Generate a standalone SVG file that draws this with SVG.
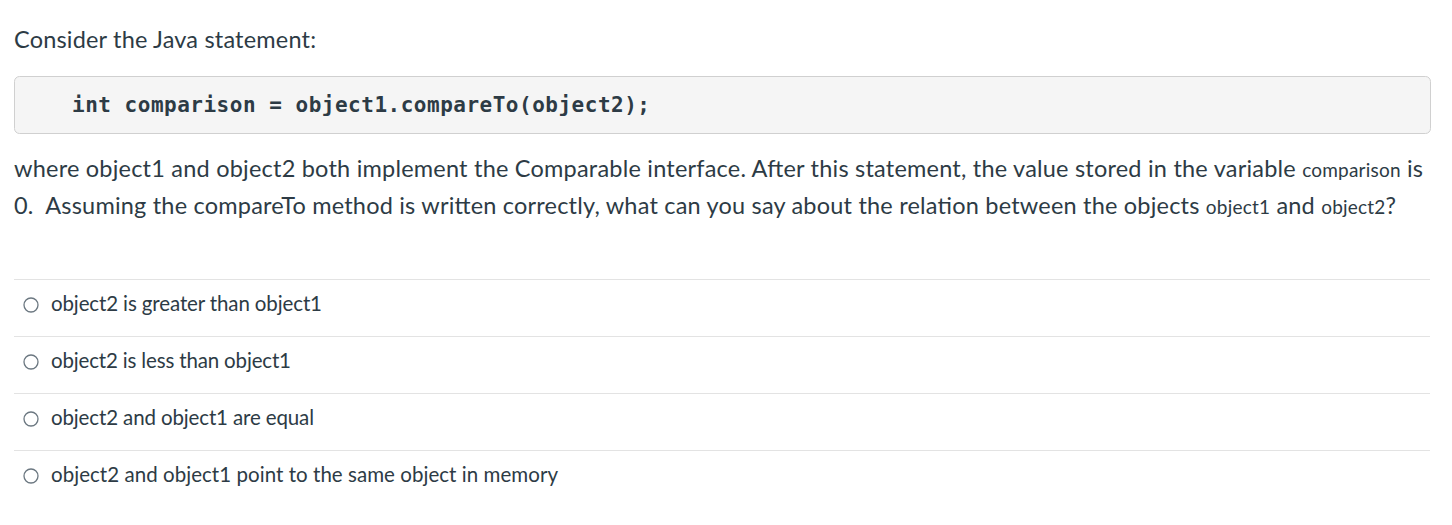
<svg xmlns="http://www.w3.org/2000/svg" width="1452" height="525" viewBox="0 0 1452 525">
<style>
.t{font-family:Lato,"Noto Sans",sans-serif;fill:#2d3b45;font-size:23.5px}
.s{font-size:19px}
.o{font-family:Lato,"Noto Sans",sans-serif;fill:#2d3b45;font-size:20.5px}
.c{font-family:"DejaVu Sans Mono",monospace;font-weight:bold;font-size:21px;fill:#2d3b45}
.sep{stroke:#e3e3e3;stroke-width:1}
.r{fill:#fff;stroke:#6b7780;stroke-width:1.3}
</style>
<rect width="1452" height="525" fill="#fff"/>
<text class="t" x="14" y="48" textLength="302" lengthAdjust="spacing">Consider the Java statement:</text>
<rect x="14.5" y="76.5" width="1416" height="57" rx="5" fill="#f5f5f5" stroke="#d0d0d0"/>
<text class="c" x="72" y="112" textLength="578" lengthAdjust="spacing">int comparison = object1.compareTo(object2);</text>
<text class="t" x="14" y="177" textLength="1409" lengthAdjust="spacing">where object1 and object2 both implement the Comparable interface. After this statement, the value stored in the variable <tspan class="s">comparison</tspan> is</text>
<text class="t" x="14" y="214" textLength="1382" lengthAdjust="spacing" xml:space="preserve">0.  Assuming the compareTo method is written correctly, what can you say about the relation between the objects <tspan class="s">object1</tspan> and <tspan class="s">object2</tspan>?</text>
<g>
<line class="sep" x1="14" y1="279.5" x2="1430" y2="279.5"/>
<line class="sep" x1="14" y1="336.5" x2="1430" y2="336.5"/>
<line class="sep" x1="14" y1="393.5" x2="1430" y2="393.5"/>
<line class="sep" x1="14" y1="450.5" x2="1430" y2="450.5"/>
</g>
<g id="opt1"><circle class="r" cx="31" cy="305" r="7"/><text class="o" x="51" y="311" textLength="271" lengthAdjust="spacing">object2 is greater than object1</text></g>
<g id="opt2"><circle class="r" cx="31" cy="362" r="7"/><text class="o" x="51" y="368" textLength="240" lengthAdjust="spacing">object2 is less than object1</text></g>
<g id="opt3"><circle class="r" cx="31" cy="419" r="7"/><text class="o" x="51" y="425" textLength="263" lengthAdjust="spacing">object2 and object1 are equal</text></g>
<g id="opt4"><circle class="r" cx="31" cy="476" r="7"/><text class="o" x="51" y="482" textLength="507" lengthAdjust="spacing">object2 and object1 point to the same object in memory</text></g>
</svg>
